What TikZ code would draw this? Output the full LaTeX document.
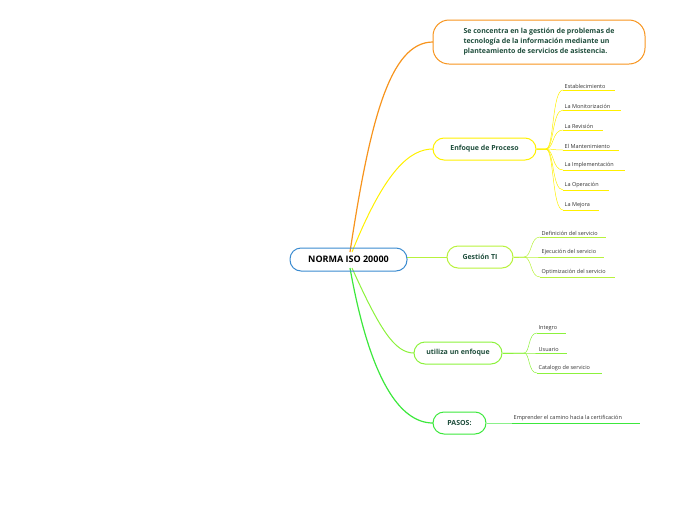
\documentclass[tikz,border=0pt]{standalone}
\usepackage{fontspec}
\setmainfont{Open Sans}
\begin{document}
\begin{tikzpicture}[x=1pt,y=-1pt,
 box/.style={draw,line width=1pt,rounded corners=11pt,text=txt,font=\bfseries\fontsize{8.5}{10.5}\selectfont,inner sep=0pt},
 leaf/.style={anchor=south west,font=\fontsize{5.5}{6.5}\selectfont,text=black!80,inner sep=1.5pt}]
\definecolor{txt}{HTML}{1E4D3B}
\definecolor{oran}{HTML}{F7941D}
\definecolor{yel}{HTML}{FFF000}
\definecolor{yg}{HTML}{B8F23C}
\definecolor{lg}{HTML}{8CF23C}
\definecolor{gr}{HTML}{3CE83C}
\definecolor{bl}{HTML}{3A8BD0}
\useasboundingbox (0,0) rectangle (697,520);
% branches
\draw[oran,line width=1.2pt] (350,252) .. controls (370,120) and (390,42) .. (433,42);
\draw[yel,line width=1pt] (352,252) .. controls (385,170) and (410,149) .. (433,149);
\draw[yg,line width=0.8pt] (407,257) -- (447,257);
\draw[lg,line width=1pt] (352,268) .. controls (380,330) and (395,353) .. (414,353);
\draw[gr,line width=1.2pt] (350,268) .. controls (370,380) and (400,423) .. (433,423);
\node[box,draw=bl,minimum width=117pt,minimum height=23pt,text=black,font=\bfseries\fontsize{9}{11}\selectfont] (c) at (348.5,259.5) {NORMA ISO 20000};
\node[box,draw=oran,minimum width=212pt,minimum height=44pt,rounded corners=16pt,align=left,font=\bfseries\fontsize{7}{10}\selectfont] (o) at (539,42) {Se concentra en la gestión de problemas de\\tecnología de la información mediante un\\planteamiento de servicios de asistencia.};
\node[box,draw=yel,minimum width=103pt,minimum height=22pt,font=\bfseries\fontsize{7}{9}\selectfont] (e) at (484.5,149) {Enfoque de Proceso};
\node[box,draw=yg,minimum width=66pt,minimum height=22pt,font=\bfseries\fontsize{7}{9}\selectfont] (g) at (480,257) {Gestión TI};
\node[box,draw=lg,minimum width=88pt,minimum height=22pt,font=\bfseries\fontsize{7}{9}\selectfont] (u) at (458,353) {utiliza un enfoque};
\node[box,draw=gr,minimum width=53pt,minimum height=22pt,font=\bfseries\fontsize{7}{9}\selectfont] (p) at (459.5,423) {PASOS:};
% leaves
\foreach \t/\y/\w [count=\i] in {Establecimiento/90/52,La Monitorización/110/58,La Revisión/130/40,El Mantenimiento/150/56,La Implementación/170/62,La Operación/190/46,La Mejora/210/36}{
 \coordinate (e\i) at (563,\y);
 \draw[yel,line width=0.5pt] (e.east) -- (546,149) .. controls (554,149) and (552,\y) .. (e\i);
 \draw[yel,line width=1pt] (e\i) -- ++(\w,0);
 \node[leaf] (el\i) at (e\i) {\t};}
\foreach \t/\y/\w [count=\i] in {Definición del servicio/237/66,Ejecución del servicio/257/64,Optimización del servicio/277/75}{
 \coordinate (g\i) at (540,\y);
 \draw[yg,line width=0.5pt] (g.east) -- (524,257) .. controls (532,257) and (530,\y) .. (g\i);
 \draw[yg,line width=1pt] (g\i) -- ++(\w,0);
 \node[leaf] (gl\i) at (g\i) {\t};}
\foreach \t/\y/\w [count=\i] in {Integro/333/29,Usuario/353/30,Catalogo de servicio/373/65}{
 \coordinate (u\i) at (537,\y);
 \draw[lg,line width=0.5pt] (u.east) -- (524,353) .. controls (530,353) and (528,\y) .. (u\i);
 \draw[lg,line width=1pt] (u\i) -- ++(\w,0);
 \node[leaf] (ul\i) at (u\i) {\t};}
\coordinate (p1) at (512,423);
\draw[gr!60,line width=0.5pt] (p.east) -- (p1);
\draw[gr,line width=1pt] (p1) -- ++(128,0);
\node[leaf] (pl1) at (p1) {Emprender el camino hacia la certificación};
\end{tikzpicture}
\end{document}
